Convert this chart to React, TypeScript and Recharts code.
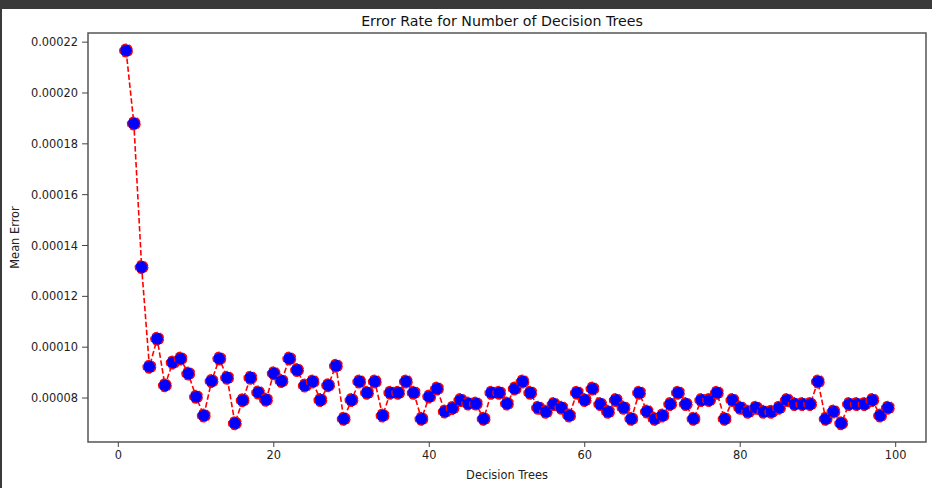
import React from "react";
import { LineChart, Line, XAxis, YAxis, ReferenceArea } from "recharts";

const trees = [
  1, 2, 3, 4, 5, 6, 7, 8, 9, 10,
  11, 12, 13, 14, 15, 16, 17, 18, 19, 20,
  21, 22, 23, 24, 25, 26, 27, 28, 29, 30,
  31, 32, 33, 34, 35, 36, 37, 38, 39, 40,
  41, 42, 43, 44, 45, 46, 47, 48, 49, 50,
  51, 52, 53, 54, 55, 56, 57, 58, 59, 60,
  61, 62, 63, 64, 65, 66, 67, 68, 69, 70,
  71, 72, 73, 74, 75, 76, 77, 78, 79, 80,
  81, 82, 83, 84, 85, 86, 87, 88, 89, 90,
  91, 92, 93, 94, 95, 96, 97, 98, 99,
];

const meanError = [
  21.67e-5, 18.8e-5, 13.15e-5, 9.23e-5, 10.33e-5, 8.5e-5, 9.4e-5, 9.55e-5, 8.96e-5, 8.05e-5,
  7.31e-5, 8.67e-5, 9.55e-5, 8.8e-5, 7.01e-5, 7.91e-5, 8.8e-5, 8.22e-5, 7.93e-5, 8.97e-5,
  8.67e-5, 9.55e-5, 9.1e-5, 8.49e-5, 8.65e-5, 7.92e-5, 8.5e-5, 9.27e-5, 7.18e-5, 7.92e-5,
  8.65e-5, 8.21e-5, 8.65e-5, 7.31e-5, 8.21e-5, 8.21e-5, 8.65e-5, 8.21e-5, 7.18e-5, 8.06e-5,
  8.37e-5, 7.47e-5, 7.61e-5, 7.92e-5, 7.78e-5, 7.78e-5, 7.18e-5, 8.21e-5, 8.21e-5, 7.78e-5,
  8.37e-5, 8.65e-5, 8.21e-5, 7.62e-5, 7.46e-5, 7.76e-5, 7.62e-5, 7.31e-5, 8.21e-5, 7.92e-5,
  8.37e-5, 7.76e-5, 7.46e-5, 7.92e-5, 7.62e-5, 7.18e-5, 8.21e-5, 7.47e-5, 7.18e-5, 7.31e-5,
  7.76e-5, 8.21e-5, 7.76e-5, 7.18e-5, 7.92e-5, 7.92e-5, 8.21e-5, 7.18e-5, 7.92e-5, 7.62e-5,
  7.46e-5, 7.62e-5, 7.46e-5, 7.46e-5, 7.62e-5, 7.92e-5, 7.76e-5, 7.76e-5, 7.76e-5, 8.65e-5,
  7.18e-5, 7.47e-5, 7.01e-5, 7.76e-5, 7.76e-5, 7.76e-5, 7.92e-5, 7.31e-5, 7.62e-5,
];

const xTicks = [0, 20, 40, 60, 80, 100];
const yTicks = [0.00008, 0.0001, 0.00012, 0.00014, 0.00016, 0.00018, 0.0002, 0.00022];

const X_MIN = -3.9;
const X_MAX = 103.9;
const Y_MIN = 0.0000627;
const Y_MAX = 0.0002236;

const data = trees.map((t, i) => ({ trees: t, error: meanError[i] }));

const FONT = "'DejaVu Sans', sans-serif";
const tickStyle = { fontSize: 11.4, fill: "#222", fontFamily: FONT };

export default function App() {
  return (
    <div
      style={{
        position: "absolute",
        left: 0,
        top: 0,
        width: 932,
        height: 488,
        background: "#fff",
        overflow: "hidden",
      }}
    >
      <div
        style={{
          position: "absolute",
          left: 0,
          top: 0,
          width: 932,
          height: 9,
          background: "#3a3a3a",
        }}
      />
      <div
        style={{
          position: "absolute",
          left: 0,
          top: 0,
          width: 1.5,
          height: 488,
          background: "#3a3a3a",
        }}
      />
      <div
        style={{
          position: "absolute",
          left: 84,
          top: 12,
          width: 836,
          height: 18,
          lineHeight: "18px",
          textAlign: "center",
          fontFamily: FONT,
          fontSize: 14.2,
          color: "#111",
        }}
      >
        Error Rate for Number of Decision Trees
      </div>
      <LineChart
        width={932}
        height={488}
        data={data}
        margin={{ top: 33, right: 6, bottom: 0, left: 0 }}
      >
        <ReferenceArea
          x1={X_MIN}
          x2={X_MAX}
          y1={Y_MIN}
          y2={Y_MAX}
          fill="none"
          stroke="#555"
          strokeWidth={1.5}
          fillOpacity={0}
          ifOverflow="visible"
        />
        <XAxis
          dataKey="trees"
          type="number"
          domain={[X_MIN, X_MAX]}
          ticks={xTicks}
          allowDataOverflow
          height={46}
          axisLine={false}
          tickLine={{ stroke: "#444" }}
          tickSize={5}
          tickMargin={4}
          tick={tickStyle}
          interval={0}
          label={{
            value: "Decision Trees",
            position: "insideBottom",
            offset: 9,
            style: { fontSize: 11.4, fill: "#222", fontFamily: FONT },
          }}
        />
        <YAxis
          type="number"
          domain={[Y_MIN, Y_MAX]}
          ticks={yTicks}
          allowDataOverflow
          width={88}
          axisLine={false}
          tickLine={{ stroke: "#444" }}
          tickSize={6}
          tickMargin={4}
          tick={tickStyle}
          interval={0}
          tickFormatter={(v: number) => v.toFixed(5)}
          label={{
            value: "Mean Error",
            angle: -90,
            position: "insideLeft",
            offset: 15,
            style: { textAnchor: "middle", fontSize: 11.4, fill: "#222", fontFamily: FONT },
          }}
        />
        <Line
          type="linear"
          dataKey="error"
          stroke="red"
          strokeWidth={1.6}
          strokeDasharray="5.5 2.5"
          dot={{ r: 6.3, fill: "blue", stroke: "red", strokeWidth: 1.4 }}
          activeDot={false}
          isAnimationActive={false}
        />
      </LineChart>
    </div>
  );
}
